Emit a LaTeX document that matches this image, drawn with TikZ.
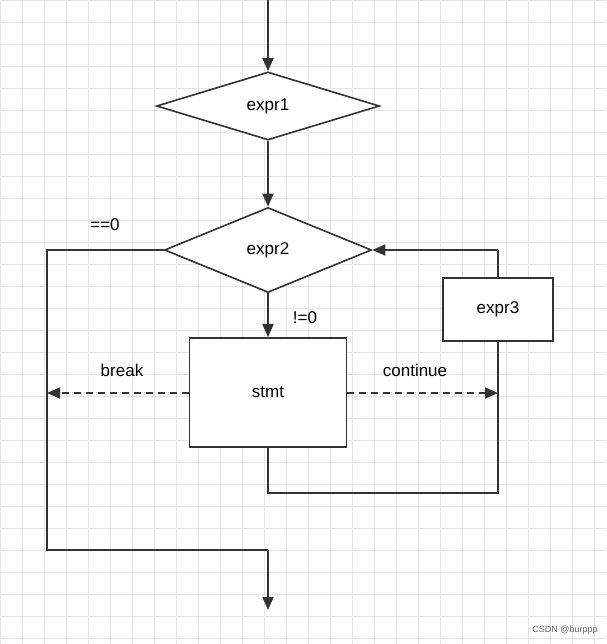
\documentclass[tikz,border=0pt]{standalone}
\usepackage{fontspec}
\setmainfont{Liberation Sans}
\usetikzlibrary{shapes.geometric,arrows.meta}
\begin{document}
\begin{tikzpicture}[x=1pt,y=-1pt,
  ft/.style={font=\fontsize{17}{20}\selectfont},
  ln/.style={line width=1.6pt,draw=black!80},
  arr/.style={ln,-{Triangle[length=13pt,width=11pt]}},
  dsh/.style={arr,dashed,dash pattern=on 7pt off 5pt},
  dia/.style={diamond,ln,fill=white,aspect=2.6,inner sep=0pt,ft},
  box/.style={rectangle,ln,fill=white,ft},
  lbl/.style={ft}]
\fill[white] (0,0) rectangle (606,644);
\useasboundingbox (0,0) rectangle (606,644);
\foreach \i in {0,22,...,606} \draw[black!10,line width=0.6pt] (\i,0) -- (\i,644);
\foreach \i in {0,22,...,644} \draw[black!10,line width=0.6pt] (0,\i) -- (606,\i);
\node[dia,minimum width=223pt,minimum height=68pt] (e1) at (268,106) {expr1};
\node[dia,minimum width=207pt,minimum height=85pt] (e2) at (268,250) {expr2};
\node[box,minimum width=157pt,minimum height=109pt] (st) at (268,392.5) {stmt};
\node[box,minimum width=110pt,minimum height=63pt] (e3) at (498,309.5) {expr3};
\coordinate (top) at (268,0);
\coordinate (l1) at (47,250);
\coordinate (l2) at (47,550);
\coordinate (l3) at (268,550);
\coordinate (end) at (268,610);
\coordinate (bk) at (47,393);
\coordinate (ct) at (498,393);
\coordinate (r1) at (498,250);
\coordinate (b1) at (268,493);
\coordinate (b2) at (498,493);
\draw[arr] (top) -- (e1.north);
\draw[arr] (e1.south) -- (e2.north);
\draw[arr] (e2.south) -- (st.north);
\draw[ln] (e2.west) -- (l1) -- (l2) -- (l3);
\draw[arr] (l3) -- (end);
\draw[dsh] (st.west |- bk) -- (bk);
\draw[dsh] (st.east |- ct) -- (ct);
\draw[ln] (e3.north) -- (r1);
\draw[arr] (r1) -- (e2.east);
\draw[ln] (st.south) -- (b1) -- (b2) -- (e3.south);
\node[lbl] (z) at (105,225) {==0};
\node[lbl] (nz) at (305,318) {!=0};
\node[lbl] (br) at (122,370) {break};
\node[lbl] (co) at (415,370) {continue};
\node[font=\small,text=black!60] (wm) at (565,630) {CSDN @burppp};
\end{tikzpicture}
\end{document}
